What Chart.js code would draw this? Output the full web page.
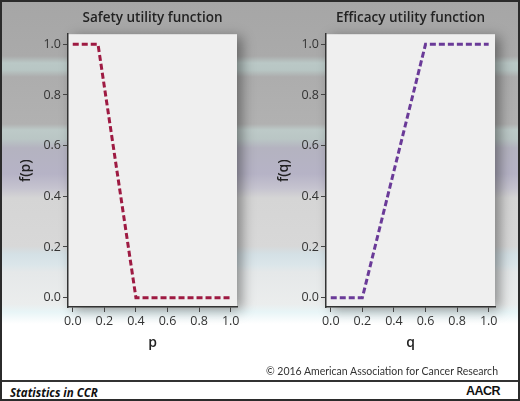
<!DOCTYPE html>
<html>
<head>
<meta charset="utf-8">
<script src="https://cdn.jsdelivr.net/npm/chart.js@4/dist/chart.umd.min.js"></script>
<style>
  html, body { margin: 0; padding: 0; }
  body { width: 520px; height: 401px; overflow: hidden; }
  #fig {
    position: relative; width: 516px; height: 397px;
    border: 2px solid #2b2b2b;
    background: linear-gradient(to bottom,
      #a6a6a6 0px, #aaaaaa 54px, #bac8c6 61px, #b8c6c4 68px, #adadad 75px,
      #b1b1b1 122px, #bdcac8 128px, #bac6c5 137px, #b4b3c0 146px,
      #b6b3c6 172px, #c5c3cf 186px, #d5d5d5 196px, #d8d8d8 244px,
      #d4e0e5 252px, #dbe6ea 263px, #e5e8e9 270px, #ebeded 302px,
      #e8f5f7 310px, #f4fafb 316px, #ffffff 322px, #ffffff 397px);
  }
  canvas { position: absolute; top: 0; }
  #copy {
    position: absolute; right: 20px; top: 363px;
    font: 10.5px "Lato", sans-serif; color: #333;
  }
  #foot {
    position: absolute; left: 0; right: 0; top: 378px; bottom: 0;
    border-top: 2px solid #333; background: #fff;
  }
  #foot .l { position: absolute; left: 8px; top: 3px; font: italic 700 11.5px "Open Sans", sans-serif; color: #111; }
  #foot .r { position: absolute; right: 18px; top: 2px; font: 700 12.5px "Liberation Sans", sans-serif; color: #111; letter-spacing: -0.5px; }
</style>
</head>
<body>
<div id="fig">
  <canvas id="safety" width="260" height="358" style="left:0;width:260px;height:358px"></canvas>
  <canvas id="efficacy" width="260" height="358" style="left:258px;width:260px;height:358px"></canvas>
  <div id="copy">© 2016 American Association for Cancer Research</div>
  <div id="foot"><span class="l">Statistics in CCR</span><span class="r">AACR</span></div>
</div>
<script>
// values
const safetyX = [0, 0.16, 0.4, 1.0];
const safetyY = [1, 1, 0, 0];
const efficacyX = [0, 0.2, 0.6, 1.0];
const efficacyY = [0, 0, 1, 1];
const tickValues = [0, 0.2, 0.4, 0.6, 0.8, 1.0];

const fontTicks = { family: 'Open Sans', size: 12.5 };
const fontTitles = { family: 'Open Sans', size: 13.5, weight: '600' };

// grey panel with a drop shadow behind the plot
const panelBg = {
  id: 'panelBg',
  beforeDraw(chart) {
    const a = chart.chartArea;
    const ctx = chart.ctx;
    ctx.save();
    ctx.shadowColor = 'rgba(0,0,0,0.4)';
    ctx.shadowBlur = 12;
    ctx.shadowOffsetX = 5;
    ctx.shadowOffsetY = 3;
    ctx.fillStyle = '#efefef';
    ctx.fillRect(a.left, a.top, a.right - a.left, a.bottom - a.top);
    ctx.restore();
  }
};

function utilityChart(id, xs, ys, color, title, xName, yName) {
  const pts = xs.map((x, i) => ({ x: x, y: ys[i] }));
  return new Chart(document.getElementById(id), {
    type: 'line',
    data: {
      datasets: [{
        data: pts,
        borderColor: color,
        borderWidth: 3,
        borderDash: [6, 3],
        pointRadius: 0,
        tension: 0,
        clip: false
      }]
    },
    options: {
      responsive: false,
      animation: false,
      layout: { padding: { left: 16, right: 25, top: 0, bottom: 0 } },
      plugins: {
        legend: { display: false },
        tooltip: { enabled: false },
        title: {
          display: true,
          fullSize: false,
          text: title,
          color: '#222',
          font: fontTitles,
          padding: { top: 8, bottom: 8 }
        }
      },
      scales: {
        x: {
          type: 'linear',
          min: -0.03,
          max: 1.04,
          afterBuildTicks: s => { s.ticks = tickValues.map(v => ({ value: v })); },
          afterFit: s => { s.height = 53; },
          ticks: { color: '#333', font: fontTicks, padding: 2, callback: v => v.toFixed(1) },
          grid: { drawOnChartArea: false, drawTicks: true, tickLength: 5, color: '#444' },
          border: { display: true, color: '#333', width: 1.5 },
          title: { display: true, text: xName, color: '#222', font: { family: 'Open Sans', size: 14, weight: '600' }, padding: { top: 0, bottom: 9 } }
        },
        y: {
          type: 'linear',
          min: -0.037,
          max: 1.04,
          afterBuildTicks: s => { s.ticks = tickValues.map(v => ({ value: v })); },
          afterFit: s => { s.width = 50; },
          ticks: { color: '#333', font: fontTicks, padding: 2, callback: v => v.toFixed(1) },
          grid: { drawOnChartArea: false, drawTicks: true, tickLength: 5, color: '#444' },
          border: { display: true, color: '#333', width: 1.5 },
          title: { display: true, text: yName, color: '#222', font: { family: 'Open Sans', size: 14, weight: '600' }, padding: { top: 0, bottom: 0 } }
        }
      }
    },
    plugins: [panelBg]
  });
}

utilityChart('safety', safetyX, safetyY, '#9e1a42', 'Safety utility function', 'p', 'f(p)');
utilityChart('efficacy', efficacyX, efficacyY, '#6a3a98', 'Efficacy utility function', 'q', 'f(q)');
</script>
</body>
</html>
